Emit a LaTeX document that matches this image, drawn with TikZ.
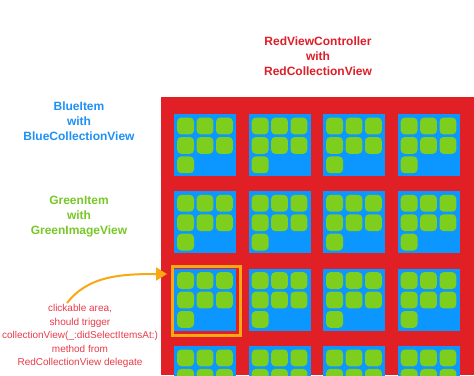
\documentclass[tikz,border=0pt]{standalone}
\usepackage{fontspec}
\setmainfont{Liberation Sans}
\usetikzlibrary{arrows.meta}
\definecolor{bgred}{RGB}{224,32,36}
\definecolor{cellblue}{RGB}{12,150,255}
\definecolor{itemgreen}{RGB}{126,206,30}
\definecolor{hlorange}{RGB}{247,168,20}
\definecolor{titlered}{RGB}{222,30,40}
\definecolor{titleblue}{RGB}{30,145,245}
\definecolor{titlegreen}{RGB}{120,200,40}
\definecolor{notered}{RGB}{232,60,75}
\tikzset{
  title/.style={align=center, font=\fontsize{12}{15}\selectfont\bfseries, inner sep=0pt},
  note/.style={align=center, font=\fontsize{10}{13.5}\selectfont, text=notered, inner sep=0pt},
  cell/.style={fill=cellblue, draw=none},
  item/.style={fill=itemgreen, draw=none, rounded corners=4pt},
}
\begin{document}
\begin{tikzpicture}[x=1pt,y=-1pt]
\useasboundingbox (0,0) rectangle (474,375);
\fill[white] (0,0) rectangle (474,375);
% red collection view
\fill[bgred] (161,97) rectangle (474,375);
% cells
\foreach \c in {0,1,2,3}{
  \foreach \r in {0,1,2,3}{
    \pgfmathsetmacro{\cx}{174+74.5*\c}
    \pgfmathsetmacro{\cy}{114+77.3*\r}
    \fill[cellblue] (\cx,\cy) rectangle ++(62,62);
    \foreach \i/\j in {0/0,1/0,2/0,0/1,1/1,2/1,0/2}{
      \fill[itemgreen, rounded corners=4pt] (\cx+3.2+19.4*\i,\cy+3.6+19.4*\j) rectangle ++(16.8,16.8);
    }
  }
}
% highlight
\node[draw=hlorange, line width=3.2pt, minimum width=68.5pt, minimum height=68.7pt, inner sep=0pt, anchor=north west] (hl) at (170.5,264.8) {};
% titles
\node[title, text=titlered] (red) at (318,56) {RedViewController\\with\\RedCollectionView};
\node[title, text=titleblue] (blue) at (79,121) {BlueItem\\with\\BlueCollectionView};
\node[title, text=titlegreen] (green) at (79,217) {GreenItem\\with\\GreenImageView};
\node[note] (note) at (80,336) {clickable area,\\should trigger\\collectionView(\_:didSelectItemsAt:)\\method from\\RedCollectionView delegate};
\coordinate (start) at (67,303);
\coordinate (tip) at (167,274);
\draw[hlorange, line width=2pt, -{Triangle[length=11pt,width=13pt]}] (start) .. controls (88,276) and (120,274) .. (tip);
\end{tikzpicture}
\end{document}
